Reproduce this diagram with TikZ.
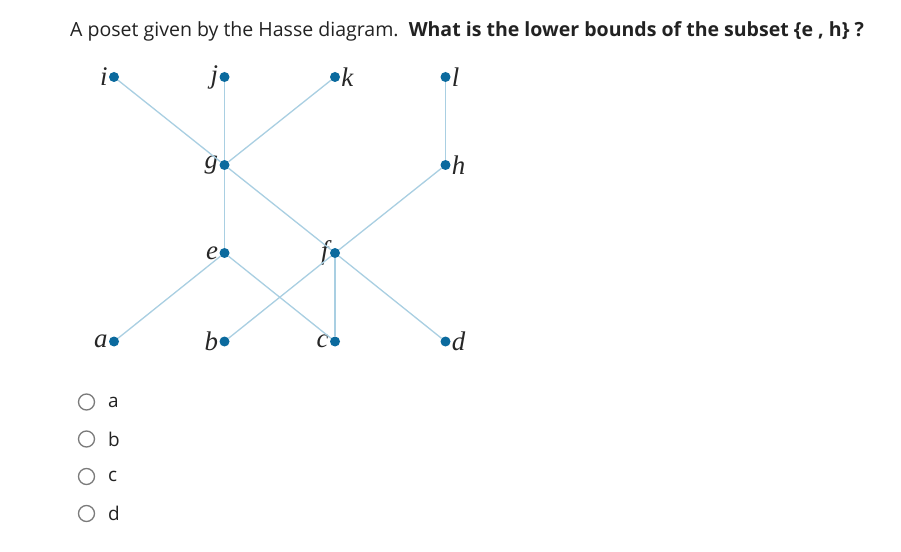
\documentclass[tikz,border=0pt]{standalone}
\usepackage{fontspec}
\setmainfont{Open Sans}
\newfontfamily\labfont{Liberation Serif}
\definecolor{dotblue}{HTML}{0B6A9E}
\definecolor{edgeblue}{HTML}{A9CFE2}
\definecolor{radiogray}{HTML}{7A7A7A}
\definecolor{txt}{HTML}{222222}
\begin{document}
\begin{tikzpicture}[x=1bp,y=-1bp,
  pt/.style={circle,fill=dotblue,inner sep=0pt,minimum size=10bp},
  lbl/.style={font=\labfont\itshape\fontsize{27}{29}\selectfont,text=black!85,inner sep=1bp,label distance=0bp},
  edge/.style={draw=edgeblue,line width=1.3bp},
  radio/.style={circle,draw=radiogray,line width=1.3bp,minimum size=16bp,inner sep=0pt},
  opt/.style={font=\fontsize{19}{22}\selectfont,text=txt,anchor=west,inner sep=0pt}]
\useasboundingbox[fill=white] (0,0) rectangle (901,552);
\node[anchor=base west,inner sep=0pt,text=txt,font=\fontsize{19.6}{22}\selectfont] (title) at (70,37)
  {A poset given by the Hasse diagram.\ \ \textbf{What is the lower bounds of the subset \{e , h\} ?}};
% nodes
\node[pt,label={[lbl]left:i}] (i) at (114,77) {};
\node[pt,label={[lbl]left:j}] (j) at (224.5,77) {};
\node[pt,label={[lbl]right:k}] (k) at (335,77) {};
\node[pt,label={[lbl]right:l}] (l) at (445.5,77) {};
\node[pt,label={[lbl]left:g}] (g) at (224.5,165) {};
\node[pt,label={[lbl]right:h}] (h) at (445.5,165) {};
\node[pt,label={[lbl]left:e}] (e) at (224.5,253) {};
\node[pt,label={[lbl]left:f}] (f) at (335,253) {};
\node[pt,label={[lbl]left:a}] (a) at (114,341.5) {};
\node[pt,label={[lbl]left:b}] (b) at (224.5,341.5) {};
\node[pt,label={[lbl]left:c}] (c) at (335,341.5) {};
\node[pt,label={[lbl]right:d}] (d) at (445.5,341.5) {};
% edges
\foreach \u/\v in {i/g,j/g,k/g,l/h,g/e,g/f,h/f,e/a,e/c,f/b,f/c,f/d}
  \draw[edge] (\u) -- (\v);
% options
\node[radio] (r1) at (86.5,402) {};
\node[radio] (r2) at (86.5,439) {};
\node[radio] (r3) at (86.5,476.5) {};
\node[radio] (r4) at (86.5,513.5) {};
\node[opt] (o1) at (108,402) {a};
\node[opt] (o2) at (108,439) {b};
\node[opt] (o3) at (108,476.5) {c};
\node[opt] (o4) at (108,513.5) {d};
\end{tikzpicture}
\end{document}
